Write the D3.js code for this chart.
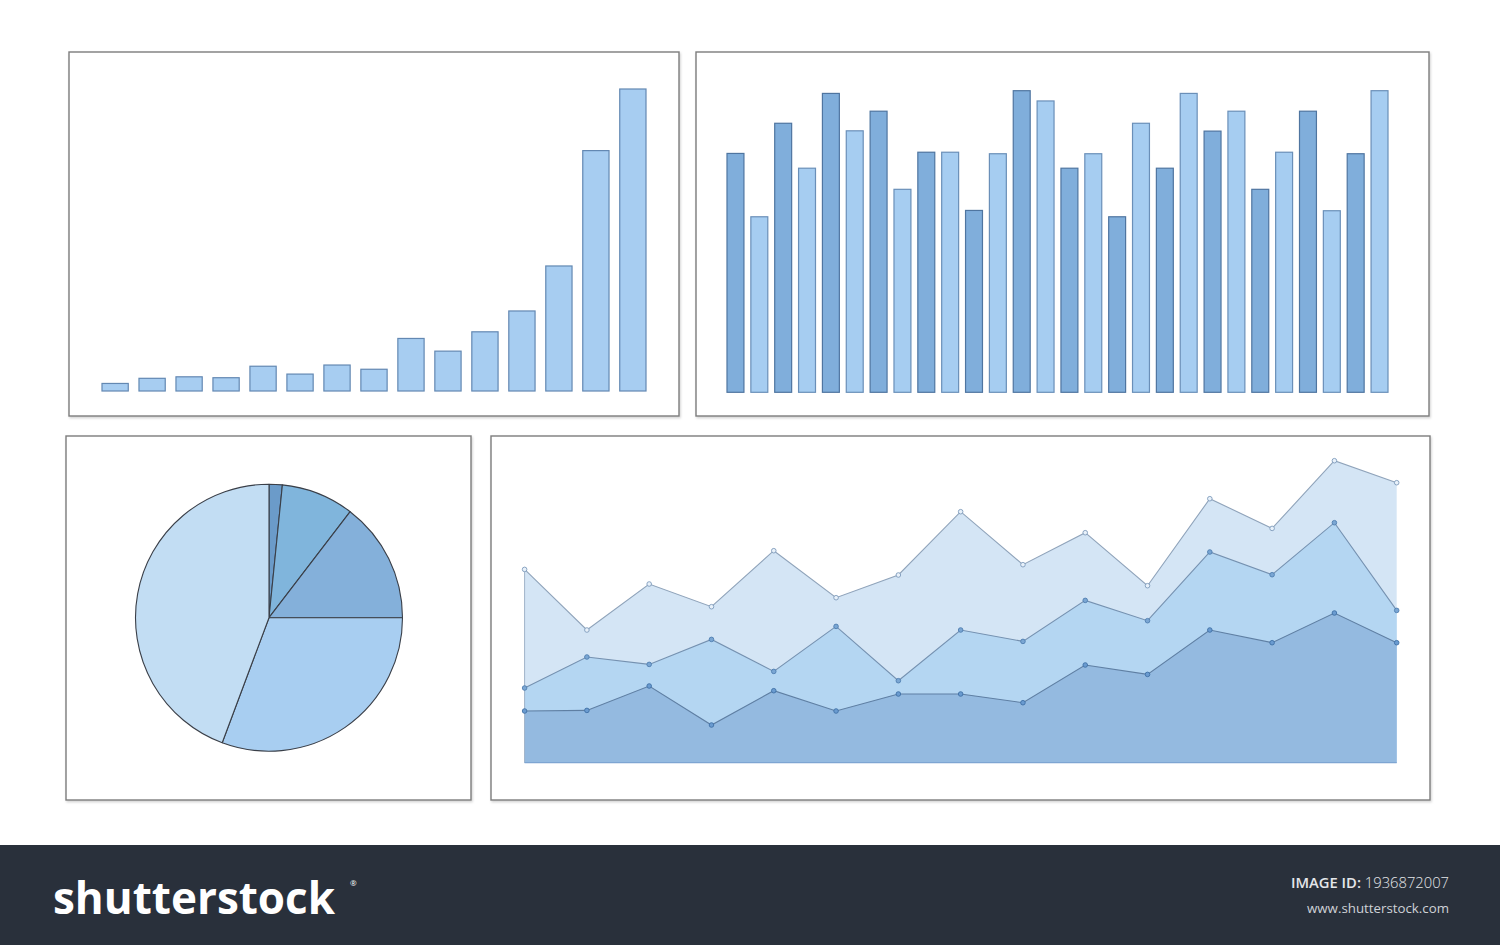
<!DOCTYPE html>
<html><head><meta charset="utf-8">
<script src="https://cdn.jsdelivr.net/npm/d3@7"></script>
<style>html,body{margin:0;padding:0;background:#fff;}svg{display:block;}</style>
</head><body>
<svg id="c" width="1500" height="945"></svg>
<script>
// ---- data ----
const growthCats = d3.range(1, 16).map(String);
const growthValues = [2.5, 4.2, 4.7, 4.4, 8.2, 5.6, 8.6, 7.2, 17.4, 13.2, 19.6, 26.5, 41.4, 79.6, 100];

const barCats = d3.range(1, 29).map(String);
const barValues = [79.2, 58.2, 89.2, 74.3, 99.1, 86.7, 93.2, 67.3, 79.6, 79.6, 60.3, 79.1, 100, 96.6,
                   74.3, 79.1, 58.2, 89.2, 74.3, 99.1, 86.6, 93.2, 67.3, 79.6, 93.2, 60.2, 79.1, 100];

const pieLabels = ["A", "B", "C", "D", "E"];
const pieValues = [1.6, 8.8, 14.6, 30.7, 44.3];

const areaCats = d3.range(1, 16);
const areaBottom = [51.7, 52.3, 76.7, 37.7, 72, 51.7, 68.7, 68.7, 60, 97.7, 88.3, 132.7, 120, 149.7, 120];
const areaMiddle = [74.7, 105.7, 98.3, 123.3, 91.3, 136.3, 82, 132.7, 121.3, 162.3, 142, 210.7, 188, 240, 152.3];
const areaTop = [193.3, 132.7, 178.7, 156, 212, 165, 187.7, 251, 198, 230, 177, 264, 234.3, 302, 280];

const footerLogo = "shutterstock";
const footerId = "1936872007";
const footerUrl = "www.shutterstock.com";

// ---- drawing ----
const svg = d3.select("#c");
const defs = svg.append("defs");
const f = defs.append("filter").attr("id", "sh").attr("x", "-5%").attr("y", "-5%").attr("width", "110%").attr("height", "110%");
f.append("feDropShadow").attr("dx", 1).attr("dy", 1.5).attr("stdDeviation", 1.2).attr("flood-color", "#000").attr("flood-opacity", 0.18);

function frame(x, y, w, h) {
  svg.append("rect").attr("x", x).attr("y", y).attr("width", w).attr("height", h)
    .attr("fill", "#fff").attr("stroke", "#7d7d7d").attr("stroke-width", 1.4).attr("filter", "url(#sh)");
}
frame(69, 52, 610, 364);
frame(696, 52, 733, 364);
frame(66, 436, 405, 364);
frame(491, 436, 939, 364);

// Panel 1: growing bars
{
  const x = d3.scaleBand().domain(growthCats).range([102, 646]).paddingInner(0.29).paddingOuter(0);
  const y = d3.scaleLinear().domain([0, 100]).range([391, 89]);
  svg.append("g").selectAll("rect").data(growthValues).join("rect")
    .attr("x", (d, i) => x(growthCats[i])).attr("width", x.bandwidth())
    .attr("y", d => y(d)).attr("height", d => y(0) - y(d))
    .attr("fill", "#a7cdf1").attr("stroke", "#6388b2").attr("stroke-width", 1.2);
}

// Panel 2: alternating bars
{
  const x = d3.scaleBand().domain(barCats).range([727, 1388]).paddingInner(0.29).paddingOuter(0);
  const y = d3.scaleLinear().domain([0, 100]).range([392.3, 90.7]);
  svg.append("g").selectAll("rect").data(barValues).join("rect")
    .attr("x", (d, i) => x(barCats[i])).attr("width", x.bandwidth())
    .attr("y", d => y(d)).attr("height", d => y(0) - y(d))
    .attr("fill", (d, i) => i % 2 === 0 ? "#80aedb" : "#a6cdf1")
    .attr("stroke", (d, i) => i % 2 === 0 ? "#4f75a0" : "#6a8fb8").attr("stroke-width", 1.2);
}

// Panel 3: pie
{
  const colors = ["#6b9bc9", "#80b5dc", "#84b0da", "#a8cef1", "#c2ddf3"];
  const pie = d3.pie().sort(null).value(d => d);
  const arc = d3.arc().innerRadius(0).outerRadius(133.5);
  svg.append("g").attr("transform", "translate(269,617.7)")
    .selectAll("path").data(pie(pieValues)).join("path")
    .attr("d", arc).attr("fill", (d, i) => colors[i])
    .attr("stroke", "#3a3f48").attr("stroke-width", 1.1).attr("stroke-linejoin", "round");
}

// Panel 4: overlapping areas
{
  const x = d3.scalePoint().domain(areaCats).range([524.6, 1396.7]);
  const y = d3.scaleLinear().domain([0, 302]).range([762.7, 460.7]);
  const series = [
    {v: areaTop, fill: "#d4e5f5", line: "#8fa3ba", pf: "#e8f1fa", ps: "#7e9bbb"},
    {v: areaMiddle, fill: "#b4d6f2", line: "#7591b0", pf: "#7aa6d3", ps: "#4f7eb0"},
    {v: areaBottom, fill: "#94bae0", line: "#5f7fa3", pf: "#6a9bd0", ps: "#3f70a6"}
  ];
  const area = d3.area().x((d, i) => x(areaCats[i])).y0(y(0)).y1(d => y(d));
  const line = d3.line().x((d, i) => x(areaCats[i])).y(d => y(d));
  const g = svg.append("g");
  series.forEach(s => {
    g.append("path").datum(s.v).attr("d", area).attr("fill", s.fill);
    g.append("path").datum(s.v).attr("d", line).attr("fill", "none").attr("stroke", s.line).attr("stroke-width", 1.1);
  });
  g.append("line").attr("x1", x(1)).attr("x2", x(1)).attr("y1", y(0)).attr("y2", y(areaTop[0]))
    .attr("stroke", "#9fb3c8").attr("stroke-width", 1);
  g.append("line").attr("x1", x(1)).attr("x2", x(15)).attr("y1", y(0)).attr("y2", y(0))
    .attr("stroke", "#7ea5d2").attr("stroke-width", 1.2);
  series.forEach(s => {
    g.append("g").selectAll("circle").data(s.v).join("circle")
      .attr("cx", (d, i) => x(areaCats[i])).attr("cy", d => y(d)).attr("r", 2.3)
      .attr("fill", s.pf).attr("stroke", s.ps).attr("stroke-width", 0.9);
  });
}

// Footer bar
svg.append("rect").attr("x", 0).attr("y", 845).attr("width", 1500).attr("height", 100).attr("fill", "#29303b");
svg.append("text").attr("x", 53).attr("y", 914).text(footerLogo)
  .attr("font-family", "'Open Sans', sans-serif").attr("font-weight", 700).attr("font-size", 44)
  .attr("fill", "#fff");
svg.append("text").attr("x", 350).attr("y", 886).text("®")
  .attr("font-family", "'Open Sans', sans-serif").attr("font-size", 8).attr("fill", "#fff");
const idText = svg.append("text").attr("x", 1449).attr("y", 888).attr("text-anchor", "end")
  .attr("font-family", "'Open Sans', sans-serif").attr("font-size", 15).attr("fill", "#e4e6ea")
  .attr("textLength", 158).attr("lengthAdjust", "spacingAndGlyphs");
idText.append("tspan").attr("font-weight", 600).text("IMAGE ID: ");
idText.append("tspan").attr("font-weight", 300).text(footerId);
svg.append("text").attr("x", 1449).attr("y", 913).attr("text-anchor", "end").text(footerUrl)
  .attr("font-family", "'Open Sans', sans-serif").attr("font-size", 13.5).attr("fill", "#cfd2d7")
  .attr("textLength", 142).attr("lengthAdjust", "spacingAndGlyphs");
</script>
</body></html>
